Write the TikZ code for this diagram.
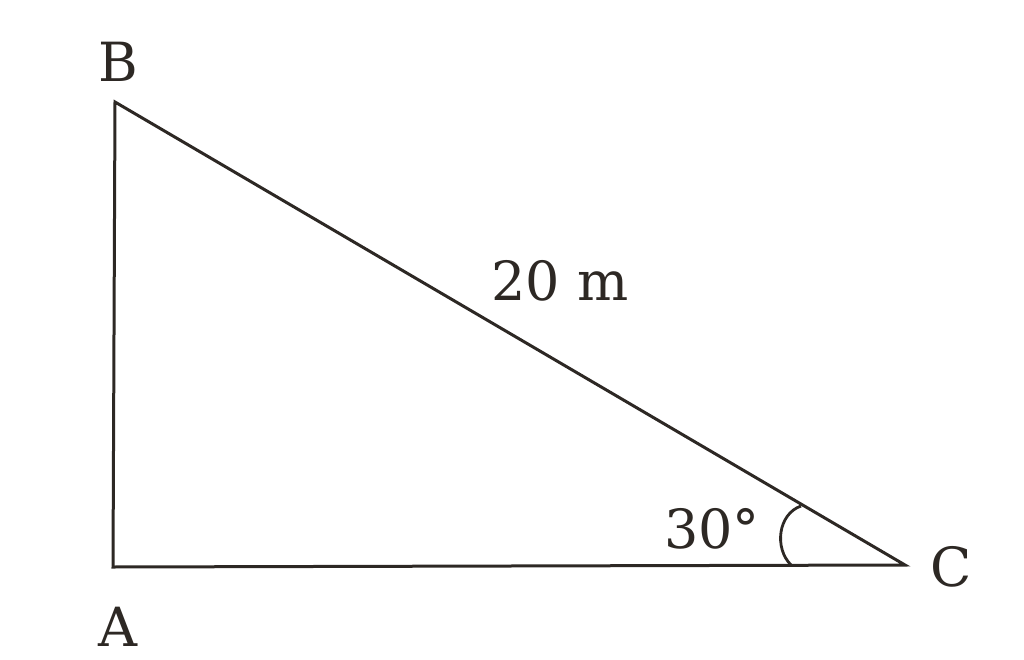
\documentclass[tikz,border=0pt]{standalone}
\usepackage{fontspec}
\usepackage{tikz}
\setmainfont{DejaVu Serif}

\definecolor{ink}{RGB}{45,40,36}

\begin{document}
\begin{tikzpicture}[x=1pt,y=-1pt]
\tikzstyle{every node}+=[inner sep=0pt, text=ink, font=\fontsize{54}{62}\selectfont]
\tikzstyle{side}=[draw=ink, line width=3pt, line join=miter]
\useasboundingbox (0,0) rectangle (1024,660);
\coordinate (A) at (113,567);
\coordinate (B) at (115,102);
\coordinate (C) at (905,565);
\draw [side] (A) -- (C) -- (B) -- cycle;
\draw (118,62) node (labB) {B};
\draw (118,627) node (labA) {A};
\draw (951,567) node (labC) {C};
\draw (560,281) node (hyp) {20 m};
\draw (712,529) node (ang) {30\textdegree};
\coordinate (arcA) at (791,565);
\coordinate (arcB) at (801,506);
\draw [draw=ink, line width=2.8pt] (arcA) .. controls (774,548) and (778,514) .. (arcB);
\end{tikzpicture}
\end{document}
